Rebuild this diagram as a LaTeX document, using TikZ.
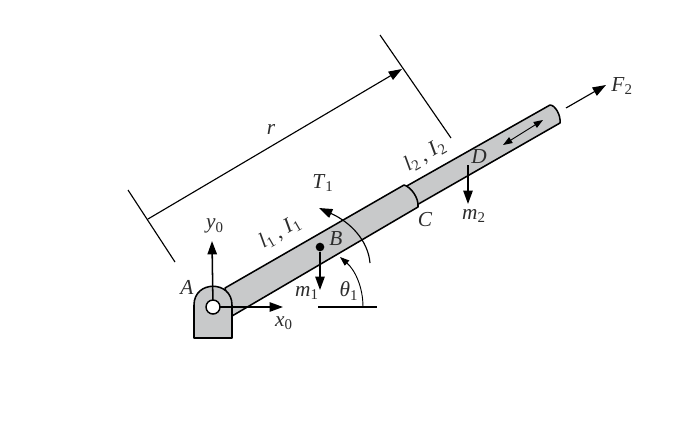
\documentclass[tikz,border=0pt]{standalone}
\usepackage{fontspec}
\usepackage{xcolor}
\setmainfont{Liberation Serif}
\usetikzlibrary{arrows.meta}
\definecolor{barfill}{RGB}{200,201,202}
\definecolor{labeltext}{RGB}{45,45,45}
\newcommand{\symsub}[2]{\textit{#1}\textsubscript{#2}}
\tikzset{
    member/.style={draw=black,line width=1.15pt,fill=barfill,line join=round},
    leader/.style={draw=black,line width=0.85pt},
    force/.style={draw=black,line width=1.15pt,-{Triangle[length=10pt,width=7pt]}},
    thinforce/.style={draw=black,line width=0.7pt,-{Triangle[length=7pt,width=5pt]}},
    label/.style={inner sep=0pt,text=labeltext,font=\fontsize{16}{18}\selectfont},
}
\begin{document}
\begin{tikzpicture}[x=0.75pt,y=0.75pt,yscale=-1,xscale=1]
    \useasboundingbox (0,0) rectangle (700,426);

    %Coordinates for the free ends
    \coordinate (rtail) at (148,219);
    \coordinate (rhead) at (402,69);
    \coordinate (extAa) at (128,190);
    \coordinate (extAb) at (175,262);
    \coordinate (extBa) at (380,35);
    \coordinate (extBb) at (451,138);
    \coordinate (pin) at (213,307);
    \coordinate (ytip) at (212,241);
    \coordinate (xtip) at (283,307);
    \coordinate (mBtip) at (320,290);
    \coordinate (Dtop) at (468,165);
    \coordinate (mDtip) at (468,204);
    \coordinate (Fa) at (566,108);
    \coordinate (Fb) at (606,85);
    \coordinate (sla) at (503,145);
    \coordinate (slb) at (543,120);
    \coordinate (basea) at (318,307);
    \coordinate (baseb) at (377,307);

    %Outer bar
    \draw [member] (560,123) -- (415,206) -- (405,187) -- (550,105) .. controls (555,105) and (561,115) .. (560,123) -- cycle ;
    %Inner bar
    \draw [member] (225,288) -- (404,185) .. controls (411,187) and (419,198) .. (418,207) -- (232,316) -- cycle ;
    %Bracket
    \draw [member] (194,338) -- (194,305) .. controls (194,280) and (232,280) .. (232,305) -- (232,338) -- cycle ;

    %Straight Lines
    \draw [leader] (extAa) -- (extAb) ;
    \draw [leader] (extBa) -- (extBb) ;
    \draw [leader,-{Triangle[length=10pt,width=7pt]}] (rtail) -- (rhead) ;
    \draw [force] (pin) -- (ytip) ;
    \draw [force] (pin) -- (xtip) ;
    \draw [leader,-{Triangle[length=10pt,width=7pt]}] (Fa) -- (Fb) ;
    \draw [thinforce,{Triangle[length=7pt,width=5pt]}-{Triangle[length=7pt,width=5pt]}] (sla) -- (slb) ;
    \draw [force] (Dtop) -- (mDtip) ;
    \draw [leader] (basea) -- (baseb) ;

    %Pin and point B
    \node (pinhole) at (pin) [circle,draw=black,line width=1.1pt,fill=white,minimum size=10.5pt,inner sep=0pt] {};
    \node (Bdot) at (320,247) [circle,fill=black,minimum size=6.5pt,inner sep=0pt] {};
    \draw [force] (Bdot) -- (mBtip) ;

    %Arcs
    \draw [leader,-{Triangle[length=10pt,width=7pt]}] (370,263) .. controls (368,240) and (350,222) .. (319,208) ;
    \draw [thinforce] (363,307) .. controls (363,287) and (355,270) .. (340,257) ;

    % Text Node
    \node (lblA) at (187,287) [label] {\textit{A}};
    \node (lbly) at (215,226) [label] {\symsub{y}{0}};
    \node (lblx) at (284,323) [label] {\symsub{x}{0}};
    \node (lblB) at (336,239) [label] {\textit{B}};
    \node (lblm) at (307,293) [label] {\symsub{m}{1}};
    \node (lblt) at (349,291) [label] {\symsub{θ}{1}};
    \node (lblT) at (323,183) [label] {\symsub{T}{1}};
    \node (lbll) at (280,232) [label,rotate=30] {\symsub{l}{1}\,, \symsub{I}{1}};
    \node (lblC) at (425,220) [label] {\textit{C}};
    \node (lblD) at (479,157) [label] {\textit{D}};
    \node (lblM) at (474,216) [label] {\symsub{m}{2}};
    \node (lblL) at (425,155) [label,rotate=30] {\symsub{l}{2}\,, \symsub{I}{2}};
    \node (lblF) at (622,86) [label] {\symsub{F}{2}};
    \node (lblr) at (271,129) [label] {\textit{r}};
\end{tikzpicture}
\end{document}
